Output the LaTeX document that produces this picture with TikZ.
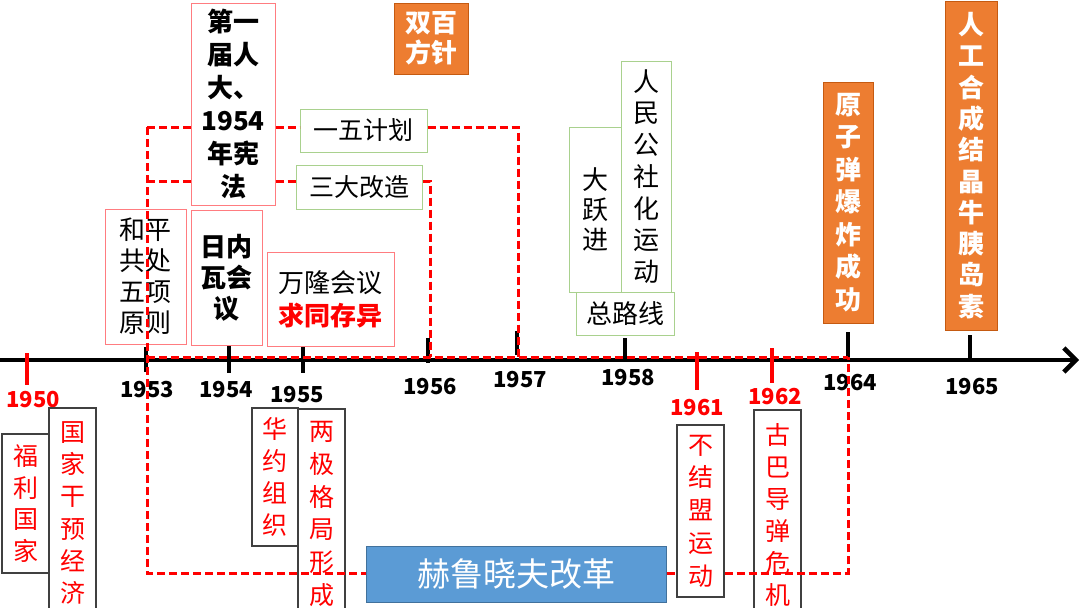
\documentclass[tikz,border=0pt]{standalone}
\usepackage{fontspec}
\setmainfont{Noto Sans CJK SC}
\usetikzlibrary{arrows.meta}
\definecolor{lred}{HTML}{FF7C80}
\definecolor{lgreen}{HTML}{A9D18E}
\definecolor{orng}{HTML}{ED7D31}
\definecolor{orngd}{HTML}{C55A11}
\definecolor{blu}{HTML}{5B9BD5}
\definecolor{blud}{HTML}{41719C}
\definecolor{gry}{HTML}{404040}
\definecolor{tred}{HTML}{FF0000}
\newcommand\fsz[2]{\fontsize{#1}{#2}\selectfont}
\begin{document}
\begin{tikzpicture}[x=1pt,y=-1pt,
  box/.style={inner sep=0pt, align=center, line width=1pt},
  redbox/.style={box, draw=lred},
  greenbox/.style={box, draw=lgreen, fill=white},
  orangebox/.style={box, fill=orng, draw=orngd, text=white},
  graybox/.style={box, draw=gry, text=tred, line width=1.2pt},
  reddash/.style={draw=tred, line width=3pt, dash pattern=on 8pt off 4pt},
  tickb/.style={line width=4pt, black},
  tickr/.style={line width=4pt, tred},
  yearb/.style={font=\bfseries\fsz{22}{22}},
  yearr/.style={font=\bfseries\fsz{22}{22}, text=tred}]
\clip (0,0) rectangle (1080,608);
\fill[white] (0,0) rectangle (1080,608);

% axis
\coordinate (ax0) at (0,360);
\coordinate (ax1) at (1079,360);
\draw[line width=4.5pt, -{Straight Barb[length=12pt,width=24pt]}] (ax0) -- (ax1);

% dashed frame coordinates
\coordinate (tl) at (147,127);
\coordinate (ml) at (147,181);
\coordinate (al) at (147,357);
\coordinate (bl) at (147,573);
\coordinate (br) at (848,573);
\coordinate (ar) at (848,357);
\coordinate (c57t) at (518,127);
\coordinate (c57b) at (518,357);
\coordinate (c56t) at (430,181);
\coordinate (c56b) at (430,357);

% boxes (upper)
\node[redbox, fill=white, minimum width=84pt, minimum height=202pt, font=\bfseries\fsz{26}{33}] (npc) at (233,104) {第一\\届人\\大、\\1954\\年宪\\法};
\node[greenbox, minimum width=127pt, minimum height=43pt, font=\fsz{25}{30}] (plan) at (363.5,130.5) {一五计划};
\node[greenbox, minimum width=126pt, minimum height=44pt, font=\fsz{25}{30}] (reform) at (359,187) {三大改造};

% ticks
\coordinate (t50a) at (27,353); \coordinate (t50b) at (27,385);
\coordinate (t53a) at (146,347); \coordinate (t53b) at (146,372);
\coordinate (t54a) at (229,346); \coordinate (t54b) at (229,373);
\coordinate (t55a) at (303,346); \coordinate (t55b) at (303,373);
\coordinate (t56a) at (428,338); \coordinate (t56b) at (428,363);
\coordinate (t57a) at (517,331); \coordinate (t57b) at (517,355);
\coordinate (t58a) at (625,338); \coordinate (t58b) at (625,362);
\coordinate (t61a) at (697,352); \coordinate (t61b) at (697,390);
\coordinate (t62a) at (772,348); \coordinate (t62b) at (772,383);
\coordinate (t64a) at (848,332); \coordinate (t64b) at (848,358);
\coordinate (t65a) at (970,335); \coordinate (t65b) at (970,358);
\draw[tickr] (t50a) -- (t50b);
\draw[tickb] (t53a) -- (t53b);
\draw[tickb] (t54a) -- (t54b);
\draw[tickb] (t55a) -- (t55b);
\draw[tickb] (t56a) -- (t56b);
\draw[tickb] (t57a) -- (t57b);
\draw[tickb] (t58a) -- (t58b);
\draw[tickr] (t61a) -- (t61b);
\draw[tickr] (t62a) -- (t62b);
\draw[tickb] (t64a) -- (t64b);
\draw[tickb] (t65a) -- (t65b);

% dashed lines
\draw[reddash] (tl) -- (npc.west |- tl);
\draw[reddash] (npc.east |- tl) -- (plan.west |- tl);
\draw[reddash] (plan.east |- tl) -- (c57t) -- (c57b);
\draw[reddash] (ml) -- (npc.west |- ml);
\draw[reddash] (npc.east |- ml) -- (reform.west |- ml);
\draw[reddash] (reform.east |- ml) -- (c56t) -- (c56b);
\draw[reddash] (al) -- (ar);

% year labels
\node[yearr] (y50) at (33,400) {1950};
\node[yearb] (y53) at (147,390) {1953};
\node[yearb] (y54) at (226,390) {1954};
\node[yearb] (y55) at (297,395) {1955};
\node[yearb] (y56) at (430,387) {1956};
\node[yearb] (y57) at (520,380) {1957};
\node[yearb] (y58) at (628,378) {1958};
\node[yearr] (y61) at (697,408) {1961};
\node[yearr] (y62) at (775,397) {1962};
\node[yearb] (y64) at (850,383) {1964};
\node[yearb] (y65) at (972,387) {1965};

% other upper boxes
\node[redbox, minimum width=81pt, minimum height=135pt, font=\fsz{26}{31}] (peace) at (145.5,276.5) {和平\\共处\\五项\\原则};
\node[redbox, fill=white, minimum width=71pt, minimum height=135pt, font=\bfseries\fsz{26}{31}] (geneva) at (226.5,277.5) {日内\\瓦会\\议};
\node[redbox, fill=white, minimum width=127pt, minimum height=94pt, font=\fsz{26}{33}] (bandung) at (330.5,299) {万隆会议\\{\bfseries\color{tred}求同存异}};
\node[orangebox, minimum width=74pt, minimum height=71pt, font=\bfseries\fsz{26}{30}] (hundred) at (431,38.5) {双百\\方针};
\node[greenbox, minimum width=52pt, minimum height=165pt, font=\fsz{26}{30}] (leap) at (595,209.5) {大\\跃\\进};
\node[greenbox, minimum width=50pt, minimum height=231pt, font=\fsz{26}{31.7}] (commune) at (646,176.5) {人\\民\\公\\社\\化\\运\\动};
\node[greenbox, minimum width=98pt, minimum height=43pt, font=\fsz{26}{30}] (general) at (625,313.5) {总路线};
\node[orangebox, minimum width=50pt, minimum height=241pt, font=\bfseries\fsz{26}{32.5}] (abomb) at (848,202.5) {原\\子\\弹\\爆\\炸\\成\\功};
\node[orangebox, minimum width=52pt, minimum height=329pt, font=\bfseries\fsz{26}{31.3}] (insulin) at (971,165.5) {人\\工\\合\\成\\结\\晶\\牛\\胰\\岛\\素};

% lower boxes
\node[graybox, minimum width=47pt, minimum height=139pt, font=\fsz{25}{31.5}] (welfare) at (25.5,503.5) {福\\利\\国\\家};
\node[graybox, minimum width=47pt, minimum height=210pt, font=\fsz{25}{32.3}] (interv) at (72.5,513) {国\\家\\干\\预\\经\\济};
\node[graybox, minimum width=46pt, minimum height=138pt, font=\fsz{25}{32.3}] (warsaw) at (275,477) {华\\约\\组\\织};
\node[graybox, minimum width=47pt, minimum height=210pt, font=\fsz{25}{32.8}] (bipolar) at (321.5,514) {两\\极\\格\\局\\形\\成};
\node[graybox, minimum width=47pt, minimum height=172pt, fill=white, font=\fsz{25}{32.8}] (nonalign) at (700.5,511) {不\\结\\盟\\运\\动};
\node[graybox, minimum width=47pt, minimum height=210pt, font=\fsz{25}{32}] (cuba) at (777.5,515) {古\\巴\\导\\弹\\危\\机};
\node[box, fill=blu, draw=blud, text=white, minimum width=300pt, minimum height=56pt, font=\fsz{33}{33}] (khr) at (516,574) {赫鲁晓夫改革};

% lower dashed frame
\draw[reddash] (tl) -- (bl) -- (khr.west |- bl);
\draw[reddash] (khr.east |- bl) -- (nonalign.west |- bl);
\draw[reddash] (nonalign.east |- bl) -- (br) -- (ar);
\end{tikzpicture}
\end{document}
